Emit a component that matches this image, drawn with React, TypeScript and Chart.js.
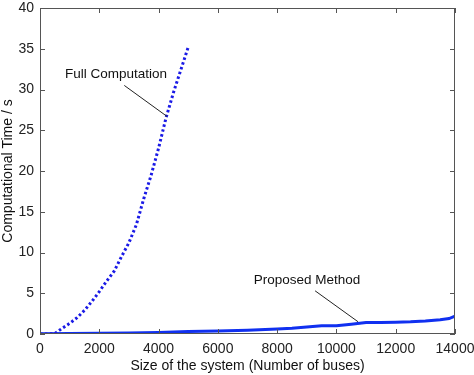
import React, { useEffect, useRef } from "react";
import { Chart, registerables } from "chart.js";

Chart.register(...registerables);

const fullX = [0, 250, 500, 750, 1000, 1250, 1500, 1750, 2000, 2250, 2500, 2750, 3000, 3250, 3500, 3750, 4000, 4250, 4500, 4750, 5000];
const fullY = [0, 0, 0.05, 0.7, 1.3, 2.0, 2.9, 4.0, 5.2, 6.5, 7.7, 9.5, 11.2, 13.4, 16.6, 19.5, 22.8, 26.5, 29.6, 32.4, 35.2];

const propX = [0, 1000, 2000, 3000, 4000, 4500, 5000, 6000, 7000, 8000, 8500, 9000, 9500, 10000, 10500, 11000, 11500, 12000, 12500, 13000, 13500, 13800, 14000];
const propY = [0.02, 0.05, 0.08, 0.12, 0.18, 0.25, 0.3, 0.38, 0.45, 0.6, 0.7, 0.85, 1.0, 1.0, 1.2, 1.4, 1.42, 1.45, 1.5, 1.6, 1.75, 1.9, 2.2];

const xTitle = "Size of the system (Number of buses)";
const yTitle = "Computational Time / s";

// annotations: label text, label position (data), leader line start/end (data)
const annoText = ["Full Computation", "Proposed Method"];
const annoLabel = [[2564, 31.9], [9007, 6.6]];
const annoFrom = [[2843, 30.5], [9280, 5.3]];
const annoTo = [[4284, 26.7], [10730, 1.5]];

const FONT = "Arial, 'Liberation Sans', sans-serif";

const framePlugin = {
  id: "frame",
  afterDraw(chart: any) {
    const { ctx, chartArea: a, scales } = chart;
    ctx.save();
    ctx.strokeStyle = "#555";
    ctx.lineWidth = 1;
    ctx.strokeRect(a.left + 0.5, a.top + 0.5, a.right - a.left - 1, a.bottom - a.top - 1);
    const tl = 5;
    ctx.beginPath();
    scales.x.ticks.forEach((t: any) => {
      const px = Math.round(scales.x.getPixelForValue(t.value)) + 0.5;
      ctx.moveTo(px, a.bottom);
      ctx.lineTo(px, a.bottom - tl);
      ctx.moveTo(px, a.top);
      ctx.lineTo(px, a.top + tl);
    });
    scales.y.ticks.forEach((t: any) => {
      const py = Math.round(scales.y.getPixelForValue(t.value)) + 0.5;
      ctx.moveTo(a.left, py);
      ctx.lineTo(a.left + tl, py);
      ctx.moveTo(a.right, py);
      ctx.lineTo(a.right - tl, py);
    });
    ctx.stroke();
    ctx.restore();
  },
  afterDatasetsDraw(chart: any) {
    const { ctx, scales } = chart;
    ctx.save();
    ctx.fillStyle = "#111";
    ctx.strokeStyle = "#222";
    ctx.lineWidth = 1;
    ctx.font = "13.5px " + FONT;
    ctx.textAlign = "center";
    ctx.textBaseline = "middle";
    for (let i = 0; i < annoText.length; i++) {
      ctx.fillText(annoText[i], scales.x.getPixelForValue(annoLabel[i][0]), scales.y.getPixelForValue(annoLabel[i][1]));
      ctx.beginPath();
      ctx.moveTo(scales.x.getPixelForValue(annoFrom[i][0]), scales.y.getPixelForValue(annoFrom[i][1]));
      ctx.lineTo(scales.x.getPixelForValue(annoTo[i][0]), scales.y.getPixelForValue(annoTo[i][1]));
      ctx.stroke();
    }
    ctx.restore();
  },
};

const noGrid = { display: true, drawOnChartArea: false, drawTicks: false, lineWidth: 0, color: "rgba(0,0,0,0)" };

export default function App() {
  const ref = useRef<HTMLCanvasElement>(null);
  useEffect(() => {
    document.body.style.margin = "0";
    const chart = new Chart(ref.current!, {
      type: "line",
      data: {
        datasets: [
          {
            label: "Full Computation",
            data: fullX.map((x, i) => ({ x, y: fullY[i] })),
            borderColor: "#1a1ae6",
            borderWidth: 3,
            borderDash: [2.5, 2.5],
            pointRadius: 0,
            tension: 0,
          },
          {
            label: "Proposed Method",
            data: propX.map((x, i) => ({ x, y: propY[i] })),
            borderColor: "#1030f0",
            borderWidth: 3,
            pointRadius: 0,
            tension: 0,
          },
        ],
      },
      options: {
        animation: false,
        responsive: false,
        layout: { padding: { top: 8, right: 19, left: 0, bottom: 0 } },
        plugins: { legend: { display: false }, tooltip: { enabled: false } },
        scales: {
          x: {
            type: "linear",
            min: 0,
            max: 14000,
            grid: noGrid,
            border: { display: false },
            ticks: { stepSize: 2000, color: "#222", font: { size: 14, family: FONT }, padding: 7, maxRotation: 0, callback: (v: any) => String(v) },
            title: { display: true, text: xTitle, color: "#111", font: { size: 14, family: FONT }, padding: { top: 0, bottom: 0 } },
            afterFit(s: any) {
              s.height = 41;
              s.paddingRight = 0;
              s.paddingLeft = 0;
            },
          },
          y: {
            type: "linear",
            min: 0,
            max: 40,
            grid: noGrid,
            border: { display: false },
            ticks: { stepSize: 5, color: "#222", font: { size: 14, family: FONT }, padding: 6, callback: (v: any) => String(v) },
            title: { display: true, text: yTitle, color: "#111", font: { size: 14, family: FONT }, padding: { top: 0, bottom: 0 } },
            afterFit(s: any) {
              s.width = 40;
              s.paddingTop = 0;
              s.paddingBottom = 0;
            },
          },
        },
      },
      plugins: [framePlugin],
    } as any);
    return () => chart.destroy();
  }, []);
  return (
    <div style={{ width: 474, height: 375 }}>
      <canvas ref={ref} width={474} height={375} style={{ display: "block", background: "#fff" }} />
    </div>
  );
}
